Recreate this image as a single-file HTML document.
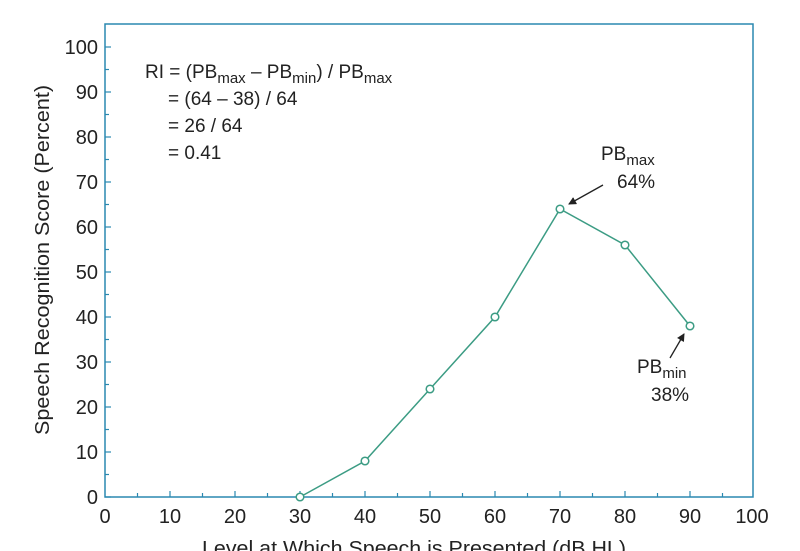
<!DOCTYPE html>
<html><head><meta charset="utf-8"><style>
html,body{margin:0;padding:0;background:#fff;}
svg{display:block;font-family:"Liberation Sans",sans-serif;}
</style></head><body>
<svg width="800" height="551" viewBox="0 0 800 551" xmlns="http://www.w3.org/2000/svg">
<defs><marker id="ah" markerWidth="8" markerHeight="8" refX="7" refY="4" orient="auto" markerUnits="userSpaceOnUse"><path d="M0,0 L8,4 L0,8 z" fill="#222"/></marker></defs>
<rect x="105" y="24" width="648" height="473" fill="none" stroke="#2a88b0" stroke-width="1.5"/>
<g stroke="#2a88b0" stroke-width="1.2">
<line x1="105" y1="497" x2="111" y2="497"/><line x1="105" y1="474.5" x2="109" y2="474.5"/>
<line x1="105" y1="452" x2="111" y2="452"/><line x1="105" y1="429.5" x2="109" y2="429.5"/>
<line x1="105" y1="407" x2="111" y2="407"/><line x1="105" y1="384.5" x2="109" y2="384.5"/>
<line x1="105" y1="362" x2="111" y2="362"/><line x1="105" y1="339.5" x2="109" y2="339.5"/>
<line x1="105" y1="317" x2="111" y2="317"/><line x1="105" y1="294.5" x2="109" y2="294.5"/>
<line x1="105" y1="272" x2="111" y2="272"/><line x1="105" y1="249.5" x2="109" y2="249.5"/>
<line x1="105" y1="227" x2="111" y2="227"/><line x1="105" y1="204.5" x2="109" y2="204.5"/>
<line x1="105" y1="182" x2="111" y2="182"/><line x1="105" y1="159.5" x2="109" y2="159.5"/>
<line x1="105" y1="137" x2="111" y2="137"/><line x1="105" y1="114.5" x2="109" y2="114.5"/>
<line x1="105" y1="92" x2="111" y2="92"/><line x1="105" y1="69.5" x2="109" y2="69.5"/>
<line x1="105" y1="47" x2="111" y2="47"/>
<line x1="137.5" y1="497" x2="137.5" y2="493"/><line x1="170" y1="497" x2="170" y2="491"/>
<line x1="202.5" y1="497" x2="202.5" y2="493"/><line x1="235" y1="497" x2="235" y2="491"/>
<line x1="267.5" y1="497" x2="267.5" y2="493"/><line x1="300" y1="497" x2="300" y2="491"/>
<line x1="332.5" y1="497" x2="332.5" y2="493"/><line x1="365" y1="497" x2="365" y2="491"/>
<line x1="397.5" y1="497" x2="397.5" y2="493"/><line x1="430" y1="497" x2="430" y2="491"/>
<line x1="462.5" y1="497" x2="462.5" y2="493"/><line x1="495" y1="497" x2="495" y2="491"/>
<line x1="527.5" y1="497" x2="527.5" y2="493"/><line x1="560" y1="497" x2="560" y2="491"/>
<line x1="592.5" y1="497" x2="592.5" y2="493"/><line x1="625" y1="497" x2="625" y2="491"/>
<line x1="657.5" y1="497" x2="657.5" y2="493"/><line x1="690" y1="497" x2="690" y2="491"/>
<line x1="722.5" y1="497" x2="722.5" y2="493"/>
</g>
<g font-size="20" fill="#222" text-anchor="end">
<text x="98" y="504">0</text><text x="98" y="459">10</text><text x="98" y="414">20</text>
<text x="98" y="369">30</text><text x="98" y="324">40</text><text x="98" y="279">50</text>
<text x="98" y="234">60</text><text x="98" y="189">70</text><text x="98" y="144">80</text>
<text x="98" y="99">90</text><text x="98" y="54">100</text>
</g>
<g font-size="20" fill="#222" text-anchor="middle">
<text x="105" y="523">0</text><text x="170" y="523">10</text><text x="235" y="523">20</text>
<text x="300" y="523">30</text><text x="365" y="523">40</text><text x="430" y="523">50</text>
<text x="495" y="523">60</text><text x="560" y="523">70</text><text x="625" y="523">80</text>
<text x="690" y="523">90</text><text x="752" y="523">100</text>
</g>
<text x="202" y="555" font-size="20" fill="#222" textLength="424" lengthAdjust="spacingAndGlyphs">Level at Which Speech is Presented (dB HL)</text>
<text transform="translate(49,260) rotate(-90)" font-size="20" fill="#222" text-anchor="middle" textLength="350" lengthAdjust="spacingAndGlyphs">Speech Recognition Score (Percent)</text>
<polyline points="300,497 365,461 430,389 495,317 560,209 625,245 690,326" fill="none" stroke="#3c9c84" stroke-width="1.5"/>
<g fill="#fff" stroke="#3c9c84" stroke-width="1.5">
<circle cx="300" cy="497" r="3.8"/><circle cx="365" cy="461" r="3.8"/><circle cx="430" cy="389" r="3.8"/>
<circle cx="495" cy="317" r="3.8"/><circle cx="560" cy="209" r="3.8"/><circle cx="625" cy="245" r="3.8"/>
<circle cx="690" cy="326" r="3.8"/>
</g>
<g font-size="19" fill="#222">
<text x="145" y="78">RI = (PB<tspan font-size="15" dy="5">max</tspan><tspan dy="-5"> – PB</tspan><tspan font-size="15" dy="5">min</tspan><tspan dy="-5">) / PB</tspan><tspan font-size="15" dy="5">max</tspan></text>
<text x="168" y="105">= (64 – 38) / 64</text>
<text x="168" y="132">= 26 / 64</text>
<text x="168" y="159">= 0.41</text>
<text x="601" y="160">PB<tspan font-size="15" dy="5">max</tspan></text>
<text x="617" y="188">64%</text>
<text x="637" y="373">PB<tspan font-size="15" dy="5">min</tspan></text>
<text x="651" y="401">38%</text>
</g>
<line x1="603" y1="185" x2="569" y2="204" stroke="#222" stroke-width="1.3" marker-end="url(#ah)"/>
<line x1="670" y1="358" x2="684" y2="334" stroke="#222" stroke-width="1.3" marker-end="url(#ah)"/>
</svg>
</body></html>
